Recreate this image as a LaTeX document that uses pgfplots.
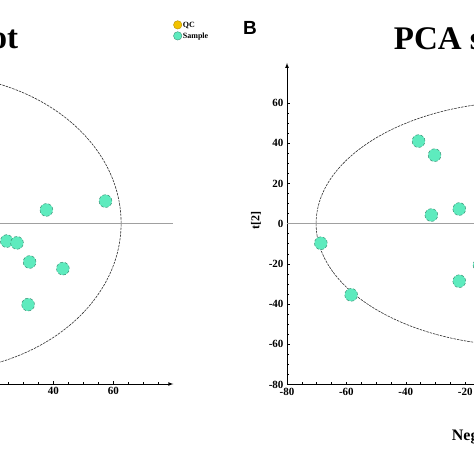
\documentclass[border=0pt]{standalone}
\usepackage{pgfplots}
\pgfplotsset{compat=1.18}
\usepackage{fontspec}
\setmainfont{Liberation Serif}
\newfontfamily\arialfont{Liberation Sans}
\definecolor{samp}{HTML}{5EEBBE}
\definecolor{sampedge}{HTML}{3A8F74}
\definecolor{qc}{HTML}{F2C200}
\definecolor{qcedge}{HTML}{B08A00}
\definecolor{zl}{HTML}{A0A0A0}
\definecolor{ellc}{HTML}{2E2E2E}
\pgfplotsset{
 pcastyle/.style={
  scale only axis, anchor=south west,
  axis lines=left, axis line style={black, line width=0.7pt, -latex},
  xmin=-80,xmax=80,ymin=-80,ymax=80,
  minor x tick num=3, minor y tick num=3,
  tick align=inside, major tick length=2.5pt, minor tick length=2pt,
  tick style={black, line width=0.6pt},
  tick label style={font=\bfseries\fontsize{11}{13}\selectfont},
  /pgf/number format/assume math mode=true,
 },
 sampmark/.style={only marks, mark=*, mark size=6.4pt,
  mark options={fill=samp, draw=sampedge, line width=0.5pt, densely dashed}},
}
\begin{document}
\begin{tikzpicture}
\useasboundingbox (0,0) rectangle (474pt,474pt);
\clip (0,0) rectangle (474pt,474pt);
% left panel
\begin{axis}[pcastyle, at={(-306.7pt,90pt)}, width=480pt, height=321.6pt,
  xtick={40,60}, ytick=\empty,
  minor xtick={25,30,35,45,50,55,65,70,75},
  legend style={at={(axis cs:80.0,101.5)}, anchor=north west, draw=none, fill=none,
    inner sep=0pt, font=\bfseries\fontsize{8}{9}\selectfont, row sep=0pt,
    nodes={inner sep=1pt, text height=7pt, text depth=2pt}},
  legend cell align=left,
  legend image code/.code={\draw[#1] plot coordinates {(0.12cm,0cm)};},
]
\draw[zl, line width=1pt] (axis cs:-80,0) -- (axis cs:80,0);
\draw[ellc, dash pattern=on 2.5pt off 1pt, line width=0.6pt] (axis cs:0,0) ellipse [x radius=62.6, y radius=73.9];
\addplot[sampmark, forget plot] table {
x y
57.4 11.0
37.7 6.6
24.5 -8.9
27.9 -9.8
32.1 -19.3
43.2 -22.6
31.6 -40.5
};
\addlegendimage{only marks, mark=*, mark size=4.2pt, mark options={fill=qc, draw=qcedge, line width=0.4pt}}
\addlegendentry{QC}
\addlegendimage{only marks, mark=*, mark size=4.2pt, mark options={fill=samp, draw=sampedge, line width=0.4pt}}
\addlegendentry{Sample}
\end{axis}
% right panel
\begin{axis}[pcastyle, at={(287pt,89.5pt)}, width=475.2pt, height=321.6pt,
  xtick={-80,-60,-40,-20}, ytick={-80,-60,...,60},
  minor xtick={-75,-70,-65,-55,-50,-45,-35,-30,-25,-15,-10},
  ylabel={t[2]}, ylabel style={at={(axis description cs:-0.0652,0.51)}, anchor=center, font=\bfseries\fontsize{12}{14}\selectfont},
]
\draw[zl, line width=1pt] (axis cs:-80,0) -- (axis cs:80,0);
\draw[ellc, dash pattern=on 2.5pt off 1pt, line width=0.6pt] (axis cs:0,0) ellipse [x radius=70.2, y radius=60.8];
\addplot[sampmark] table {
x y
-35.7 41.1
-30.3 34.1
-31.4 4.3
-22.0 7.3
-68.6 -9.7
-58.4 -35.4
-22.0 -28.6
-15.2 -20.6
};
\end{axis}
\node[anchor=base east, inner sep=0pt, font=\bfseries\fontsize{33}{36}\selectfont] at (18.3pt,425.7pt) {PCA score plot};
\node[anchor=base west, inner sep=0pt, font=\bfseries\fontsize{33}{36}\selectfont] at (393.7pt,424pt) {PCA score plot};
\node[anchor=base west, inner sep=0pt, font=\arialfont\bfseries\fontsize{19}{20}\selectfont] at (243pt,439pt) {B};
\node[anchor=base west, inner sep=0pt, font=\bfseries\fontsize{16}{18}\selectfont] at (451.7pt,34pt) {Negative};
\end{tikzpicture}
\end{document}
